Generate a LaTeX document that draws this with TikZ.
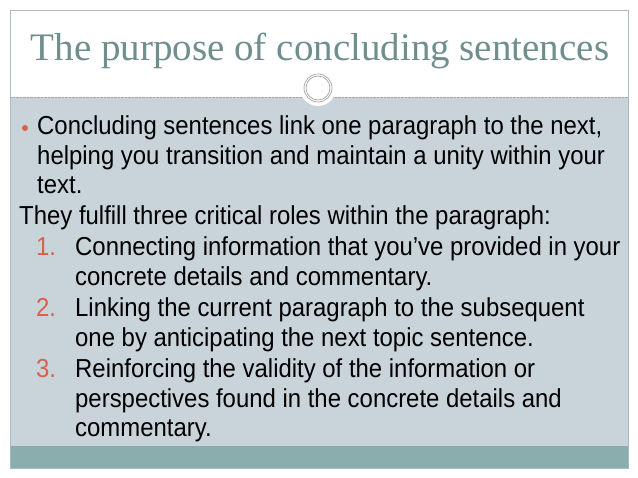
\documentclass[tikz,border=0pt]{standalone}
\usepackage{fontspec}
\usepackage{graphicx}
\setmainfont{Liberation Sans}
\newfontfamily\titlefont{Liberation Serif}
\definecolor{panel}{HTML}{C9D3DA}
\definecolor{bar}{HTML}{8AAEAD}
\definecolor{titlec}{HTML}{6E8F8E}
\definecolor{edge}{HTML}{A9BCC2}
\definecolor{num}{HTML}{D9604A}
\newcommand{\nx}[1]{\scalebox{0.92}[1]{#1}}
\tikzset{ln/.style={anchor=base west,inner sep=0pt,font=\fontsize{26}{30}\selectfont},
 nm/.style={ln,text=num}}
\begin{document}
\begin{tikzpicture}[x=1pt,y=-1pt]
\useasboundingbox (0,0) rectangle (638,478);
\fill[white] (0,0) rectangle (638,478);
\fill[panel] (10,97) rectangle (628,446);
\fill[bar] (10,446) rectangle (628,468);
\draw[edge] (10,10) rectangle (628,468);
\draw[gray!70,densely dotted] (10,97) -- (628,97);
\fill[white] (318,88) circle (18);
\draw[gray!80,line width=0.6pt] (318,88) circle (14);
\draw[gray!80,line width=0.6pt] (318,88) circle (12);
\node[anchor=base,inner sep=0pt,text=titlec,font=\titlefont\fontsize{39}{42}\selectfont] (t) at (320,61) {The purpose of concluding sentences};
\fill[num] (25,128) circle (3);
\node[ln] (a1) at (37,135) {\nx{Concluding sentences link one paragraph to the next,}};
\node[ln] (a2) at (37,165) {\nx{helping you transition and maintain a unity within your}};
\node[ln] (a3) at (37,194) {\nx{text.}};
\node[ln] (b) at (19,225) {\nx{They fulfill three critical roles within the paragraph:}};
\node[nm] (n1) at (36,256) {\nx{1.}};
\node[ln] (c1) at (75,256) {\nx{Connecting information that you’ve provided in your}};
\node[ln] (c2) at (75,286) {\nx{concrete details and commentary.}};
\node[nm] (n2) at (36,317) {\nx{2.}};
\node[ln] (d1) at (75,317) {\nx{Linking the current paragraph to the subsequent}};
\node[ln] (d2) at (75,347) {\nx{one by anticipating the next topic sentence.}};
\node[nm] (n3) at (36,378) {\nx{3.}};
\node[ln] (e1) at (75,378) {\nx{Reinforcing the validity of the information or}};
\node[ln] (e2) at (75,408) {\nx{perspectives found in the concrete details and}};
\node[ln] (e3) at (75,437) {\nx{commentary.}};
\end{tikzpicture}
\end{document}
